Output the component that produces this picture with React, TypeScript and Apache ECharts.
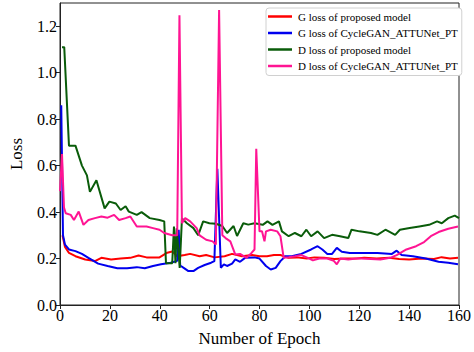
import React, { useEffect, useRef } from "react";
import * as echarts from "echarts";

const seriesNames = [
  "G loss of proposed model",
  "G loss of CycleGAN_ATTUNet_PT",
  "D loss of proposed model",
  "D loss of CycleGAN_ATTUNet_PT",
];
const seriesColors = ["#ff0000", "#0000ee", "#0a5c0a", "#ff1493"];

const xTicks = [0, 20, 40, 60, 80, 100, 120, 140, 160];
const yTicks = [0, 0.2, 0.4, 0.6, 0.8, 1.0, 1.2];

const gProposedEpochs = [1, 2, 3.6, 6.2, 10.1, 14, 16.6, 20.5, 24.3, 28.2, 31.5, 34.7, 39.9, 43, 45, 47, 50, 52.2, 56, 58.6, 62, 66, 69, 73, 77, 80, 83, 85.8, 88.4, 91.6, 95, 99, 102, 105.9, 110, 114, 118.8, 122, 127, 132, 136, 140, 145, 150, 153, 156.4, 159.6];
const gProposedLoss = [0.30, 0.25, 0.224, 0.21, 0.196, 0.189, 0.203, 0.196, 0.2, 0.203, 0.213, 0.205, 0.205, 0.225, 0.23, 0.21, 0.215, 0.22, 0.21, 0.215, 0.205, 0.21, 0.22, 0.21, 0.215, 0.21, 0.21, 0.215, 0.215, 0.203, 0.205, 0.2, 0.205, 0.203, 0.198, 0.2, 0.2, 0.203, 0.2, 0.203, 0.198, 0.196, 0.2, 0.198, 0.206, 0.2, 0.203];

const gCycleEpochs = [0.5, 1.2, 2, 3.6, 6.2, 8.8, 11.4, 15.3, 19.1, 23, 26.9, 30.8, 34, 37.3, 40.5, 44.4, 47, 47.6, 48.2, 49.6, 51.5, 53.5, 55.4, 58, 60.6, 61.9, 63.1, 64.5, 65.7, 67, 69, 70.3, 72.2, 74.2, 78, 80, 82.6, 84.5, 86.5, 88.4, 90.4, 92.9, 96.8, 100.7, 103.3, 105.2, 107.2, 109.1, 111, 113, 116.2, 120.1, 127.3, 133.1, 135, 137, 141.5, 146.7, 151.8, 155.7, 159.6];
const gCycleLoss = [0.86, 0.30, 0.26, 0.239, 0.232, 0.22, 0.203, 0.178, 0.168, 0.158, 0.158, 0.163, 0.158, 0.168, 0.175, 0.182, 0.19, 0.324, 0.17, 0.16, 0.146, 0.146, 0.16, 0.172, 0.182, 0.189, 0.586, 0.16, 0.175, 0.168, 0.178, 0.196, 0.186, 0.203, 0.205, 0.2, 0.168, 0.153, 0.16, 0.189, 0.21, 0.21, 0.22, 0.239, 0.253, 0.239, 0.22, 0.22, 0.246, 0.229, 0.224, 0.224, 0.224, 0.22, 0.234, 0.215, 0.21, 0.2, 0.186, 0.182, 0.175];

const dProposedEpochs = [0.8, 1.7, 3.6, 6.2, 8.8, 10.8, 12, 14.6, 17.9, 19.8, 22.4, 24.3, 26.3, 27.6, 30.8, 32.7, 36, 39.9, 41.8, 42.5, 45, 45.7, 46.3, 46.8, 48, 48.9, 50.9, 53.5, 55.4, 57.4, 59.9, 62.5, 65.1, 67, 69.6, 71, 73.5, 75.5, 78, 81.3, 83.2, 85.2, 87.8, 89, 91.7, 94.2, 96.8, 98.8, 100.7, 103.3, 105.9, 109.1, 112.3, 115.6, 116.9, 120.1, 124.7, 127.3, 130.5, 134.4, 136.3, 140.2, 144.1, 148, 151.2, 153.1, 155.7, 158.3, 160];
const dProposedLoss = [1.11, 1.11, 0.686, 0.686, 0.60, 0.558, 0.487, 0.537, 0.416, 0.445, 0.437, 0.409, 0.425, 0.402, 0.388, 0.40, 0.374, 0.366, 0.36, 0.18, 0.18, 0.338, 0.18, 0.33, 0.16, 0.373, 0.352, 0.331, 0.30, 0.36, 0.352, 0.35, 0.34, 0.31, 0.34, 0.297, 0.352, 0.346, 0.352, 0.345, 0.36, 0.345, 0.36, 0.317, 0.296, 0.31, 0.296, 0.324, 0.296, 0.317, 0.288, 0.302, 0.296, 0.288, 0.324, 0.317, 0.31, 0.302, 0.324, 0.302, 0.324, 0.331, 0.338, 0.345, 0.36, 0.352, 0.374, 0.385, 0.374];

const dCycleEpochs = [0, 0.8, 1.6, 2.3, 4.3, 5.6, 7.5, 9.4, 11.4, 14, 16.6, 19.1, 21.7, 23.7, 26.3, 28.2, 30.8, 34.7, 37.3, 39.9, 41.8, 45, 47, 47.9, 48.9, 50.2, 52.2, 54.8, 56, 58.6, 61.2, 62.5, 63.8, 65.1, 66.4, 68.3, 70.3, 72.2, 74.8, 76.8, 78, 78.7, 80, 81, 82, 82.6, 84.5, 87.1, 88.4, 89.7, 91.7, 94.3, 96.8, 99.4, 101.4, 104, 107.2, 109.8, 111, 112.4, 115.6, 118.8, 120.8, 128.5, 132.4, 135, 138.9, 142.8, 146, 148.7, 151.8, 155.7, 159.6];
const dCycleLoss = [0.49, 0.65, 0.42, 0.395, 0.388, 0.366, 0.402, 0.345, 0.366, 0.374, 0.381, 0.376, 0.388, 0.366, 0.374, 0.381, 0.338, 0.338, 0.331, 0.324, 0.31, 0.30, 0.30, 1.247, 0.352, 0.374, 0.36, 0.331, 0.30, 0.281, 0.274, 0.26, 1.27, 0.30, 0.288, 0.274, 0.217, 0.22, 0.203, 0.224, 0.239, 0.672, 0.317, 0.317, 0.274, 0.317, 0.324, 0.317, 0.296, 0.203, 0.206, 0.21, 0.215, 0.203, 0.192, 0.2, 0.2, 0.19, 0.175, 0.2, 0.196, 0.2, 0.2, 0.196, 0.203, 0.215, 0.239, 0.253, 0.271, 0.296, 0.314, 0.328, 0.338];

const seriesEpochs = [gProposedEpochs, gCycleEpochs, dProposedEpochs, dCycleEpochs];
const seriesLoss = [gProposedLoss, gCycleLoss, dProposedLoss, dCycleLoss];

const FONT = "'Liberation Serif', 'Times New Roman', serif";

export default function App() {
  const ref = useRef<HTMLDivElement>(null);
  useEffect(() => {
    if (!ref.current) return;
    const chart = echarts.init(ref.current, null, { renderer: "svg" });
    chart.setOption({
      animation: false,
      backgroundColor: "#ffffff",
      grid: {
        left: 49,
        right: 13,
        top: 3,
        bottom: 44,
        show: true,
        borderColor: "#222",
        borderWidth: 1,
        containLabel: false,
      },
      legend: {
        data: seriesNames,
        orient: "vertical",
        left: 266,
        top: 8,
        padding: [3, 4, 4, 2],
        icon: "rect",
        itemWidth: 24,
        itemHeight: 2.5,
        itemGap: 5.5,
        backgroundColor: "#ffffff",
        borderColor: "#d0d0d0",
        borderWidth: 1,
        borderRadius: 3,
        textStyle: { fontFamily: FONT, fontSize: 11, color: "#000", padding: [0, 0, 0, 1] },
      },
      xAxis: {
        type: "value",
        min: 0,
        max: 160,
        interval: 20,
        name: "Number of Epoch",
        nameLocation: "middle",
        nameGap: 25,
        nameTextStyle: { fontFamily: FONT, fontSize: 17, color: "#000" },
        axisLine: { show: true, onZero: false, lineStyle: { color: "#222", width: 1 } },
        axisTick: { show: true, inside: false, length: 4, lineStyle: { color: "#222" } },
        axisLabel: {
          margin: 2,
          fontFamily: FONT,
          fontSize: 16,
          color: "#000",
          formatter: (v: number) => (xTicks.includes(v) ? String(v) : ""),
        },
        splitLine: { show: false },
      },
      yAxis: {
        type: "value",
        min: 0,
        max: 1.3,
        interval: 0.2,
        name: "Loss",
        nameLocation: "middle",
        nameGap: 35,
        nameRotate: 90,
        nameTextStyle: { fontFamily: FONT, fontSize: 17, color: "#000" },
        axisLine: { show: true, lineStyle: { color: "#222", width: 1 } },
        axisTick: { show: true, inside: false, length: 4, lineStyle: { color: "#222" } },
        axisLabel: {
          margin: 3,
          fontFamily: FONT,
          fontSize: 16,
          color: "#000",
          showMaxLabel: false,
          formatter: (v: number) =>
            yTicks.some((t) => Math.abs(t - v) < 1e-6) ? v.toFixed(1) : "",
        },
        splitLine: { show: false },
      },
      series: seriesNames.map((name, i) => ({
        name,
        type: "line",
        symbol: "none",
        color: seriesColors[i],
        lineStyle: { color: seriesColors[i], width: 2 },
        data: seriesEpochs[i].map((e, j) => [e, seriesLoss[i][j]]),
      })),
    });
    return () => chart.dispose();
  }, []);
  return <div ref={ref} style={{ width: 474, height: 352, position: "absolute", left: 0, top: 0 }} />;
}
